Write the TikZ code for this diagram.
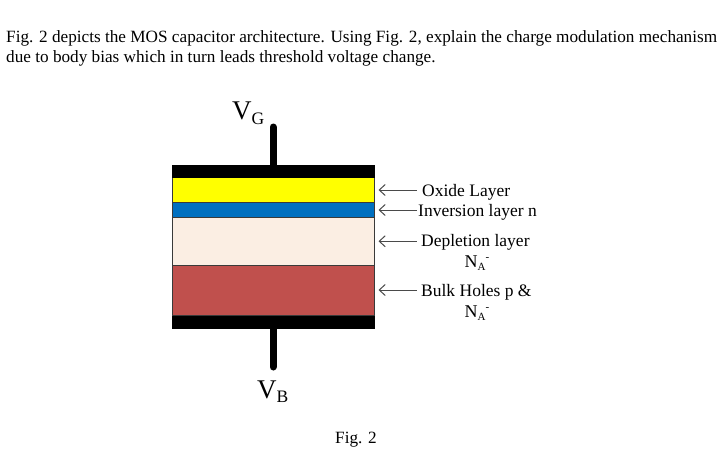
\documentclass[tikz,border=0pt]{standalone}
\usepackage{fontspec}
\setmainfont{Liberation Serif}
\newcommand{\sizedtext}[1]{\fontsize{#1}{#1}\selectfont}
\newcommand{\acceptor}{N\raisebox{-3pt}{\sizedtext{11}A}\raisebox{7pt}{\sizedtext{11}-}}
\definecolor{oxidecol}{HTML}{FFFF00}
\definecolor{inversioncol}{HTML}{0070C0}
\definecolor{depletioncol}{HTML}{FBEEE3}
\definecolor{bulkcol}{HTML}{C0504D}
\definecolor{pointercol}{HTML}{4A4A4A}
\definecolor{bordercol}{HTML}{3A3A3A}
\usetikzlibrary{arrows.meta}
\tikzset{
  layer/.style={draw=bordercol, line width=1pt, minimum width=202pt, inner sep=0pt, outer sep=0pt},
  plate/.style={fill=black, draw=none, minimum width=203pt, minimum height=13pt, inner sep=0pt, outer sep=0pt},
  lead/.style={line width=7pt, line cap=round},
  pointer/.style={draw=pointercol, line width=1pt, {Straight Barb[length=6pt,width=11pt]}-},
  caption/.style={anchor=base west, inner sep=0pt, font=\sizedtext{17.2}},
  layerlabel/.style={anchor=base west, inner sep=0pt, font=\sizedtext{17.5}},
  acceptorlabel/.style={anchor=base, inner sep=0pt, font=\sizedtext{18}},
  voltage/.style={anchor=base west, inner sep=0pt, font=\sizedtext{27}}
}
\begin{document}
\begin{tikzpicture}[x=1pt,y=-1pt]
  \useasboundingbox (0,0) rectangle (722,471);

  % Question text
  \node [caption] (line1) at (6,42) {Fig. 2 depicts the MOS capacitor architecture. Using Fig. 2, explain the charge modulation mechanism};
  \node [caption] (line2) at (6,62) {due to body bias which in turn leads threshold voltage change.};

  % Layers of the stack
  \foreach \name/\ytop/\ybot/\col in {oxide/177.5/202.5/oxidecol, inversion/202.5/217.5/inversioncol, depletion/217.5/265/depletioncol, bulk/265/315/bulkcol} {
    \pgfmathsetmacro\ymid{(\ytop+\ybot)/2}
    \pgfmathsetmacro\yhgt{\ybot-\ytop}
    \node [layer, fill=\col, minimum height=\yhgt pt] (\name) at (273.5,\ymid) {};
  }

  % Contacts
  \node [plate] (gateplate) at (273.5,171) {};
  \node [plate] (bodyplate) at (273.5,322) {};
  \coordinate (gatetip) at (273,127);
  \coordinate (bodytip) at (273,367);
  \draw [lead] (gateplate.north -| gatetip) -- (gatetip);
  \draw [lead] (bodyplate.south -| bodytip) -- (bodytip);

  \node [voltage] (VG) at (232,119) {V\raisebox{-5pt}{\sizedtext{17.5}G}};
  \node [voltage] (VB) at (257,398) {V\raisebox{-4pt}{\sizedtext{17.5}B}};

  % Labels and their arrows
  \node [layerlabel] (lbloxide)     at (422,196) {Oxide Layer};
  \node [layerlabel] (lblinversion) at (418,216) {Inversion layer n};
  \node [layerlabel] (lbldepletion) at (421,246) {Depletion layer};
  \node [layerlabel] (lblbulk)      at (421,296) {Bulk Holes p \&};
  \node [acceptorlabel] (nadepletion) at (477,267) {\acceptor};
  \node [acceptorlabel] (nabulk)      at (477,317) {\acceptor};

  \foreach \name/\gap in {oxide/5,inversion/1,depletion/4,bulk/4} {
    \draw [pointer] ([xshift=4pt]\name.east) -- ([xshift=-\gap pt]\name.east -| lbl\name.west);
  }

  \node [caption] (figlabel) at (335,443) {Fig. 2};
\end{tikzpicture}
\end{document}
